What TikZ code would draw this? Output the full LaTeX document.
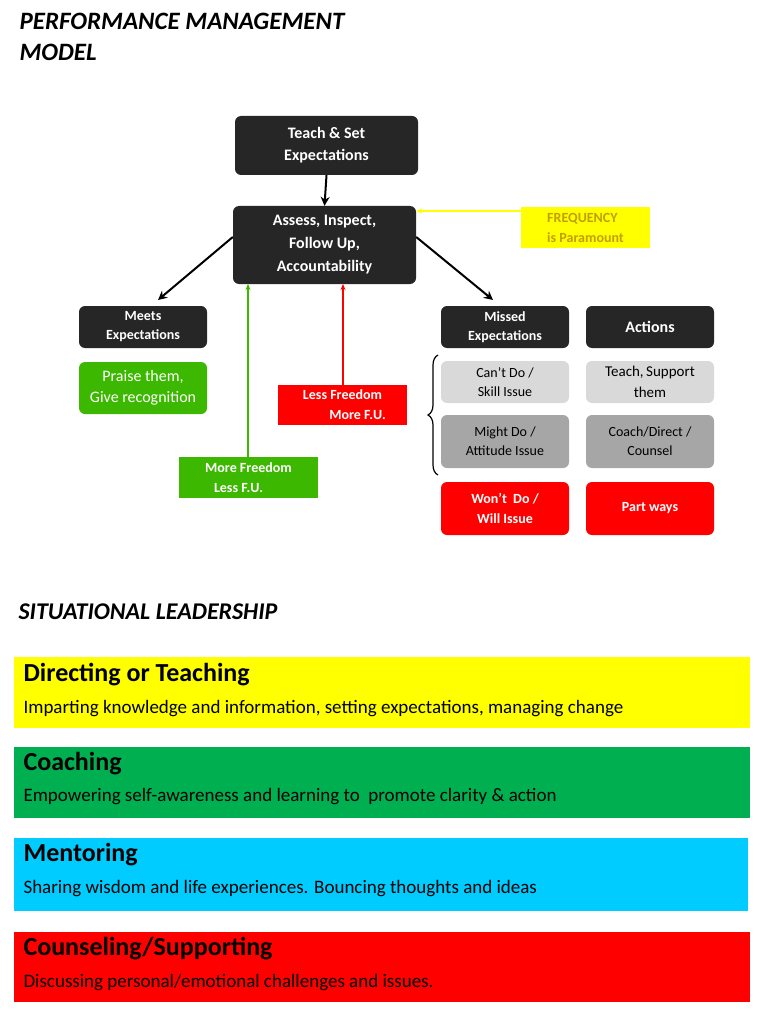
\documentclass[tikz,border=0pt]{standalone}
\usepackage{fontspec}
\setmainfont{Carlito}
\usetikzlibrary{arrows.meta,decorations.pathreplacing}
\definecolor{dk}{HTML}{262626}
\definecolor{lg}{HTML}{D9D9D9}
\definecolor{mg}{HTML}{A6A6A6}
\definecolor{gr}{HTML}{3CB800}
\definecolor{rd}{HTML}{FF0000}
\definecolor{yl}{HTML}{FFFF00}
\definecolor{bgr}{HTML}{00B050}
\definecolor{cy}{HTML}{00CCFF}
\definecolor{fq}{HTML}{C0A000}
\tikzset{
 box/.style={rounded corners=6pt,minimum width=#1,align=center,inner sep=2pt},
 dbox/.style={box=128pt,fill=dk,text=white,font=\bfseries\fontsize{14}{19}\selectfont},
 abox/.style={box=128pt,font=\fontsize{14}{19}\selectfont},
 band/.style={anchor=north west,minimum width=736pt,inner sep=0pt},
 ttl/.style={anchor=west,font=\bfseries\fontsize{26}{30}\selectfont},
 dsc/.style={anchor=west,font=\fontsize{19}{22}\selectfont},
 arr/.style={-{Stealth[length=9pt,width=9pt]},line width=2pt},
}
\begin{document}
\begin{tikzpicture}[x=1pt,y=-1pt]
\useasboundingbox (0,0) rectangle (768,1024);
\node[anchor=north west,align=left,font=\bfseries\itshape\fontsize{25}{31}\selectfont] (t1) at (16,10) {PERFORMANCE MANAGEMENT\\MODEL};
\node[dbox,minimum width=183pt,minimum height=59pt,font=\bfseries\fontsize{16}{22}\selectfont] (teach) at (326.5,145.5) {Teach \& Set\\Expectations};
\node[dbox,minimum width=183pt,minimum height=78pt,font=\bfseries\fontsize{16}{23}\selectfont] (assess) at (324.5,245) {Assess, Inspect,\\Follow Up,\\Accountability};
\node[fill=yl,text=fq,minimum width=129pt,minimum height=41pt,align=left,font=\bfseries\fontsize{14}{20}\selectfont,inner sep=0pt] (freq) at (585.5,227.5) {FREQUENCY\\is Paramount};
\node[dbox,minimum height=42pt] (meets) at (143,327) {Meets\\Expectations};
\node[box=128pt,fill=gr,text=white,minimum height=52pt,font=\fontsize{16}{21}\selectfont] (praise) at (143,388) {Praise them,\\Give recognition};
\node[dbox,minimum height=42pt] (missed) at (505,327) {Missed\\Expectations};
\node[dbox,minimum height=42pt,font=\bfseries\fontsize{16}{20}\selectfont] (actions) at (650,327) {Actions};
\node[abox,fill=lg,minimum height=42pt] (cant) at (505,382) {Can’t Do /\\Skill Issue};
\node[abox,fill=lg,minimum height=42pt,font=\fontsize{15}{21}\selectfont] (tsup) at (650,382) {Teach,\,Support\\them};
\node[abox,fill=mg,minimum height=53pt] (might) at (505,441.5) {Might Do /\\Attitude Issue};
\node[abox,fill=mg,minimum height=53pt] (coach) at (650,441.5) {Coach/Direct /\\Counsel};
\node[abox,fill=rd,text=white,minimum height=53pt,font=\bfseries\fontsize{14}{20}\selectfont] (wont) at (505,508.5) {Won't\ \ Do /\\Will Issue};
\node[abox,fill=rd,text=white,minimum height=53pt,font=\bfseries\fontsize{14}{20}\selectfont] (part) at (650,508.5) {Part ways};
\node[fill=rd,text=white,minimum width=129pt,minimum height=40pt,align=center,inner sep=0pt,font=\bfseries\fontsize{14}{20}\selectfont] (less) at (342.5,405) {Less Freedom\\\hspace*{30pt}More F.U.};
\node[fill=gr,text=white,minimum width=139pt,minimum height=41pt,align=center,inner sep=0pt,font=\bfseries\fontsize{14}{20}\selectfont] (more) at (248.5,477.5) {More Freedom\\Less F.U.\hspace*{20pt}};
\coordinate (mt) at (158,300);
\coordinate (xt) at (493,300);
\draw[arr] (teach.south) -- ++(0,0) -- (assess.north);
\draw[arr] (assess.west |- 0,237) -- (mt);
\draw[arr] (assess.east |- 0,237) -- (xt);
\draw[-{Stealth[length=6pt,width=5pt]},yl,line width=2pt] (freq.west |- 0,211) -- (assess.east |- 0,211);
\draw[-{Stealth[length=6pt,width=5pt]},rd,line width=1.5pt] (less.north -| 343,0) -- (343,284);
\draw[-{Stealth[length=6pt,width=5pt]},gr,line width=1.5pt] (more.north -| 248,0) -- (248,284);
\draw[decorate,decoration={brace,amplitude=10pt},line width=1.2pt] (438,475) -- (438,355);
\node[anchor=west,font=\bfseries\itshape\fontsize{24}{28}\selectfont] (sl) at (15,612) {SITUATIONAL LEADERSHIP};
\node[band,fill=yl,minimum height=71pt] (b1) at (14,657) {};
\node[ttl] (b1t) at (20,675) {Directing or Teaching};
\node[dsc] (b1d) at (20,709) {Imparting knowledge and information, setting expectations, managing change};
\node[band,fill=bgr,minimum height=71pt] (b2) at (14,747) {};
\node[ttl] (b2t) at (20,764) {Coaching};
\node[dsc] (b2d) at (20,797) {Empowering self-awareness and learning to\ \ promote clarity \& action};
\node[band,fill=cy,minimum height=73pt,minimum width=734pt] (b3) at (14,838) {};
\node[ttl] (b3t) at (20,855) {Mentoring};
\node[dsc] (b3d) at (20,889) {Sharing wisdom and life experiences. Bouncing thoughts and ideas};
\node[band,fill=rd,minimum height=70pt] (b4) at (14,932) {};
\node[ttl] (b4t) at (20,949) {Counseling/Supporting};
\node[dsc] (b4d) at (20,983) {Discussing personal/emotional challenges and issues.};
\end{tikzpicture}
\end{document}
